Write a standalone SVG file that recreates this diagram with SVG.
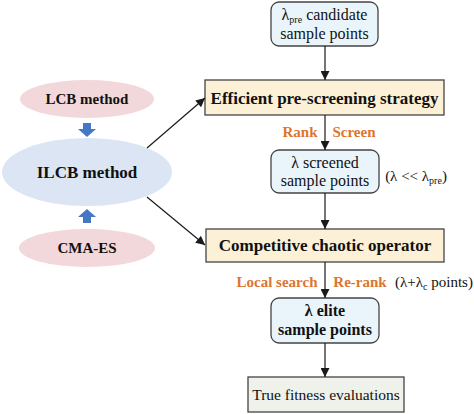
<svg xmlns="http://www.w3.org/2000/svg" width="474" height="414" viewBox="0 0 474 414">
<defs>
<marker id="ah" viewBox="0 0 10 10" refX="10" refY="5" markerWidth="10" markerHeight="9" markerUnits="userSpaceOnUse" orient="auto"><path d="M0,0 L10,5 L0,10 z" fill="#1a1a1a"/></marker>
<style>
text{fill:#111;text-anchor:middle;font-family:'Liberation Serif','Times New Roman',serif}
.b{font-weight:bold}
.o{font-weight:bold;fill:#dc7530;font-size:15px}
.pt{fill:#eaf5fb;stroke:#444;stroke-width:1.3}
.op{fill:#fcf1d6;stroke:#444;stroke-width:1.3}
.ln{stroke:#1a1a1a;stroke-width:1.2;fill:none}
.blk{fill:#4677c4}
</style>
</defs>
<g id="n-candidate"><rect class="pt" x="271" y="2" width="107" height="44" rx="8"/><text x="324.5" y="20" font-size="16">λ<tspan font-size="10" dy="3">pre</tspan><tspan dy="-3"> candidate</tspan></text><text x="324.5" y="39" font-size="16">sample points</text></g>
<g id="n-efficient"><rect class="op" x="205" y="80" width="239" height="35"/><text class="b" x="324.5" y="104" font-size="17">Efficient pre-screening strategy</text></g>
<g id="n-screened"><rect class="pt" x="271" y="150" width="108" height="43" rx="8"/><text x="325" y="168" font-size="16">λ screened</text><text x="325" y="186" font-size="16">sample points</text></g>
<text x="416" y="181" font-size="15">(λ &lt;&lt; λ<tspan font-size="10" dy="3">pre</tspan><tspan dy="-3">)</tspan></text>
<g id="n-competitive"><rect class="op" x="206" y="229" width="238" height="33"/><text class="b" x="325" y="251" font-size="17">Competitive chaotic operator</text></g>
<g id="n-elite"><rect class="pt" x="271" y="298" width="108" height="45" rx="8"/><text class="b" x="325" y="316" font-size="16">λ elite</text><text class="b" x="325" y="335" font-size="16">sample points</text></g>
<g id="n-true"><rect x="248" y="377" width="156" height="35" fill="#eef2ea" stroke="#444" stroke-width="1.3"/><text x="326" y="400" font-size="15.5">True fitness evaluations</text></g>
<g id="n-lcb"><ellipse cx="87" cy="99" rx="67" ry="19" fill="#f2d8da"/><text class="b" x="87" y="104" font-size="15">LCB method</text></g>
<g id="n-ilcb"><ellipse cx="87" cy="172" rx="85" ry="34" fill="#dbe5f3"/><text class="b" x="87" y="178" font-size="17">ILCB method</text></g>
<g id="n-cma"><ellipse cx="87" cy="248" rx="68" ry="19" fill="#f2d8da"/><text class="b" x="87" y="253" font-size="15">CMA-ES</text></g>
<g id="labels">
<text class="o" x="300" y="137">Rank</text>
<text class="o" x="354" y="137">Screen</text>
<text class="o" x="277" y="287">Local search</text>
<text class="o" x="360" y="287">Re-rank</text>
<text x="434" y="287" font-size="15">(λ+λ<tspan font-size="10" dy="3">c</tspan><tspan dy="-3"> points)</tspan></text>
</g>
<g id="connectors">
<line class="ln" x1="325" y1="46" x2="325" y2="80" marker-end="url(#ah)"/>
<line class="ln" x1="325" y1="115" x2="325" y2="150" marker-end="url(#ah)"/>
<line class="ln" x1="325" y1="193" x2="325" y2="229" marker-end="url(#ah)"/>
<line class="ln" x1="325" y1="262" x2="325" y2="298" marker-end="url(#ah)"/>
<line class="ln" x1="325" y1="343" x2="325" y2="377" marker-end="url(#ah)"/>
<line class="ln" x1="147" y1="148" x2="205" y2="98" marker-end="url(#ah)"/>
<line class="ln" x1="147" y1="197" x2="205" y2="245" marker-end="url(#ah)"/>
<path class="blk" d="M83,123 h8 v6 h5 l-9,8 l-9,-8 h5 z"/>
<path class="blk" d="M83,223 h8 v-6 h5 l-9,-8 l-9,8 h5 z"/>
</g>
</svg>
